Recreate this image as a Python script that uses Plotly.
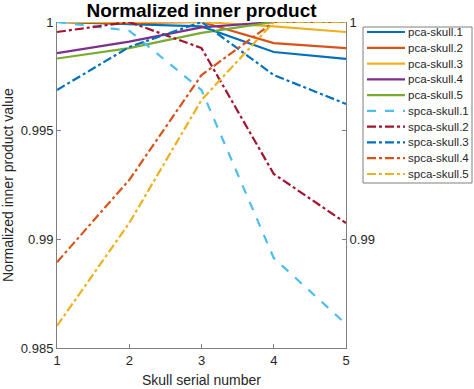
import plotly.graph_objects as go

x = [1, 2, 3, 4, 5]
names = ["pca-skull.1", "pca-skull.2", "pca-skull.3", "pca-skull.4", "pca-skull.5",
         "spca-skull.1", "spca-skull.2", "spca-skull.3", "spca-skull.4", "spca-skull.5"]
pca1 = [1.0, 0.9999, 0.9998, 0.99862, 0.9983]
pca2 = [1.0, 0.99995, 1.0, 0.99903, 0.9988]
pca3 = [1.0, 1.0, 1.0, 0.9998, 0.99954]
pca4 = [0.99857, 0.9991, 0.99975, 1.0, 1.0]
pca5 = [0.99832, 0.9988, 0.9995, 1.0, 1.0]
spca1 = [1.0, 0.9996, 0.99687, 0.98914, 0.9861]
spca2 = [0.99954, 1.0, 0.9988, 0.99301, 0.99075]
spca3 = [0.99687, 0.99885, 1.0, 0.99756, 0.99623]
spca4 = [0.98895, 0.99273, 0.99756, 1.0, 1.0]
spca5 = [0.98602, 0.99075, 0.99641, 1.0, 1.0]
series = [pca1, pca2, pca3, pca4, pca5, spca1, spca2, spca3, spca4, spca5]
colors = ["#0072BD", "#D95319", "#EDB120", "#7E2F8E", "#77AC30",
          "#4DBEEE", "#A2142F", "#0072BD", "#D95319", "#EDB120"]
dashes = ["solid"] * 5 + ["dash", "dashdot", "dashdot", "dashdot", "dashdot"]

yticks = [0.985, 0.99, 0.995, 1.0]
yticklabels = ["0.985", "0.99", "0.995", "1"]
ytick_right = ["", "0.99", "", "1"]
xticks = [1, 2, 3, 4, 5]

W, H = 474, 389
PL, PR, PT, PB = 57, 346, 22, 348          # plot box in pixels
ML, MR, MT, MB = PL, W - PR, PT, H - PB
PW, PH = PR - PL, PB - PT


def px2paper_x(px):
    return (px - PL) / PW


def px2paper_y(py):
    return (PB - py) / PH


fig = go.Figure()
for n, s, c, d in zip(names, series, colors, dashes):
    fig.add_trace(go.Scatter(x=x, y=s, name=n, mode="lines", showlegend=False,
                             line=dict(color=c, width=2.2, dash=d)))
fig.add_trace(go.Scatter(x=[1], y=[1], yaxis="y2", showlegend=False,
                         mode="markers", marker=dict(opacity=0), hoverinfo="skip"))

# manual legend (MATLAB-style compact box)
shapes = [dict(type="rect", xref="paper", yref="paper",
               x0=px2paper_x(363), x1=px2paper_x(472),
               y0=px2paper_y(183), y1=px2paper_y(27),
               line=dict(color="#808080", width=1), fillcolor="white", layer="above")]
annotations = []
step = (174 - 32) / 9
for i, (n, c, d) in enumerate(zip(names, colors, dashes)):
    yc = 32 + i * step
    shapes.append(dict(type="line", xref="paper", yref="paper",
                       x0=px2paper_x(367), x1=px2paper_x(405),
                       y0=px2paper_y(yc), y1=px2paper_y(yc),
                       line=dict(color=c, width=2.2, dash=d), layer="above"))
    annotations.append(dict(text=n, xref="paper", yref="paper",
                            x=px2paper_x(406), y=px2paper_y(yc),
                            xanchor="left", yanchor="middle", showarrow=False,
                            font=dict(size=11.5, color="#262626")))

# y-axis title placed as rotated text
annotations.append(dict(text="Normalized inner product value", xref="paper", yref="paper",
                        x=px2paper_x(8), y=0.5, textangle=-90,
                        xanchor="center", yanchor="middle", showarrow=False,
                        font=dict(size=14, color="#262626")))

font = "Liberation Sans, Arial, sans-serif"
fig.update_layout(
    width=W, height=H,
    margin=dict(l=ML, r=MR, t=MT, b=MB, autoexpand=False),
    plot_bgcolor="white", paper_bgcolor="white",
    showlegend=False,
    font=dict(family=font, size=13, color="#262626"),
    title=dict(text="<b>Normalized inner product</b>",
               x=(PL + PR) / 2 / W,
               xanchor="center", y=1 - 10 / H, yanchor="middle",
               automargin=False, font=dict(size=19, color="black")),
    xaxis=dict(range=[1, 5], tickvals=xticks, ticks="inside", ticklen=4,
               tickcolor="#808080", showline=True, linecolor="#808080", linewidth=1,
               showgrid=False, zeroline=False, mirror=False, automargin=False,
               tickfont=dict(size=13),
               title=dict(text="Skull serial number", standoff=8,
                          font=dict(size=14, color="#262626"))),
    yaxis=dict(range=[0.985, 1.0], tickvals=yticks, ticktext=yticklabels,
               ticks="inside", ticklen=4, tickcolor="#808080", showline=True,
               linecolor="#808080", linewidth=1, showgrid=False, zeroline=False,
               automargin=False, tickfont=dict(size=13)),
    yaxis2=dict(range=[0.985, 1.0], tickvals=yticks, ticktext=ytick_right,
                overlaying="y", side="right", ticks="inside", ticklen=4,
                tickcolor="#808080", showline=True, linecolor="#808080",
                linewidth=1, showgrid=False, zeroline=False, automargin=False,
                tickfont=dict(size=13)),
    shapes=shapes,
    annotations=annotations,
)
fig.write_html("out.html", config={"displayModeBar": False},
               post_script="document.body.style.margin='0';document.body.style.overflow='hidden';")
